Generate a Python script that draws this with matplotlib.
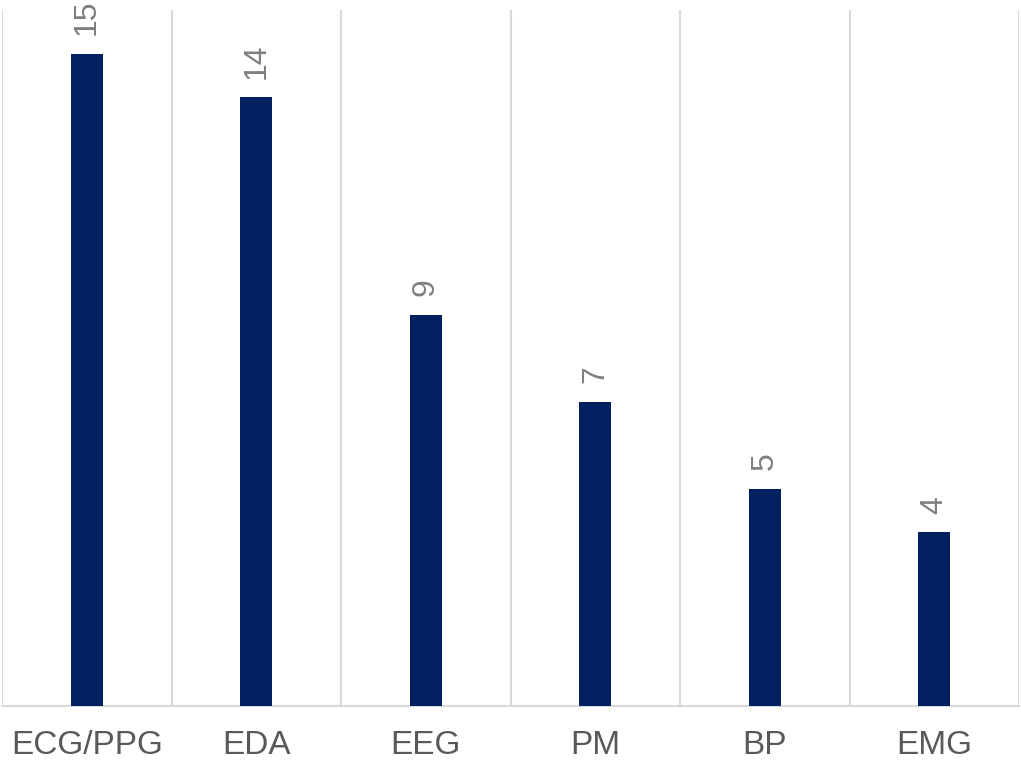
import matplotlib.pyplot as plt
import numpy as np

categories = ["ECG/PPG", "EDA", "EEG", "PM", "BP", "EMG"]
counts = [15, 14, 9, 7, 5, 4]

BAR_COLOR = "#002060"
GRID_COLOR = "#d9d9d9"

plt.rcParams["font.family"] = ["Liberation Sans", "DejaVu Sans"]

fig = plt.figure(figsize=(10.21, 7.6), dpi=100)
ax = fig.add_axes([2 / 1021, 54 / 760, 1017 / 1021, 696 / 760])

x = np.arange(len(categories))
bars = ax.bar(x, counts, width=0.19, color=BAR_COLOR, zorder=3)

for rect, value in zip(bars, counts):
    ax.annotate(
        str(value),
        xy=(rect.get_x() + rect.get_width() / 2, rect.get_height()),
        xytext=(0, 13),
        textcoords="offset points",
        rotation=90,
        ha="center",
        va="bottom",
        fontsize=23,
        color="#7f7f7f",
    )

ax.set_xlim(-0.5, len(categories) - 0.5)
ax.set_ylim(0, 16)
for boundary in np.arange(-0.5, len(categories), 1.0):
    ax.axvline(boundary, color=GRID_COLOR, linewidth=1.5, zorder=1)

ax.set_xticks(x)
ax.set_xticklabels(categories, fontsize=24, color="#595959")
ax.tick_params(axis="x", length=0, pad=17)
ax.set_yticks([])
for side in ("top", "left", "right"):
    ax.spines[side].set_visible(False)
ax.spines["bottom"].set_color(GRID_COLOR)
ax.spines["bottom"].set_linewidth(1.5)

fig.savefig("out.png", dpi=100)
